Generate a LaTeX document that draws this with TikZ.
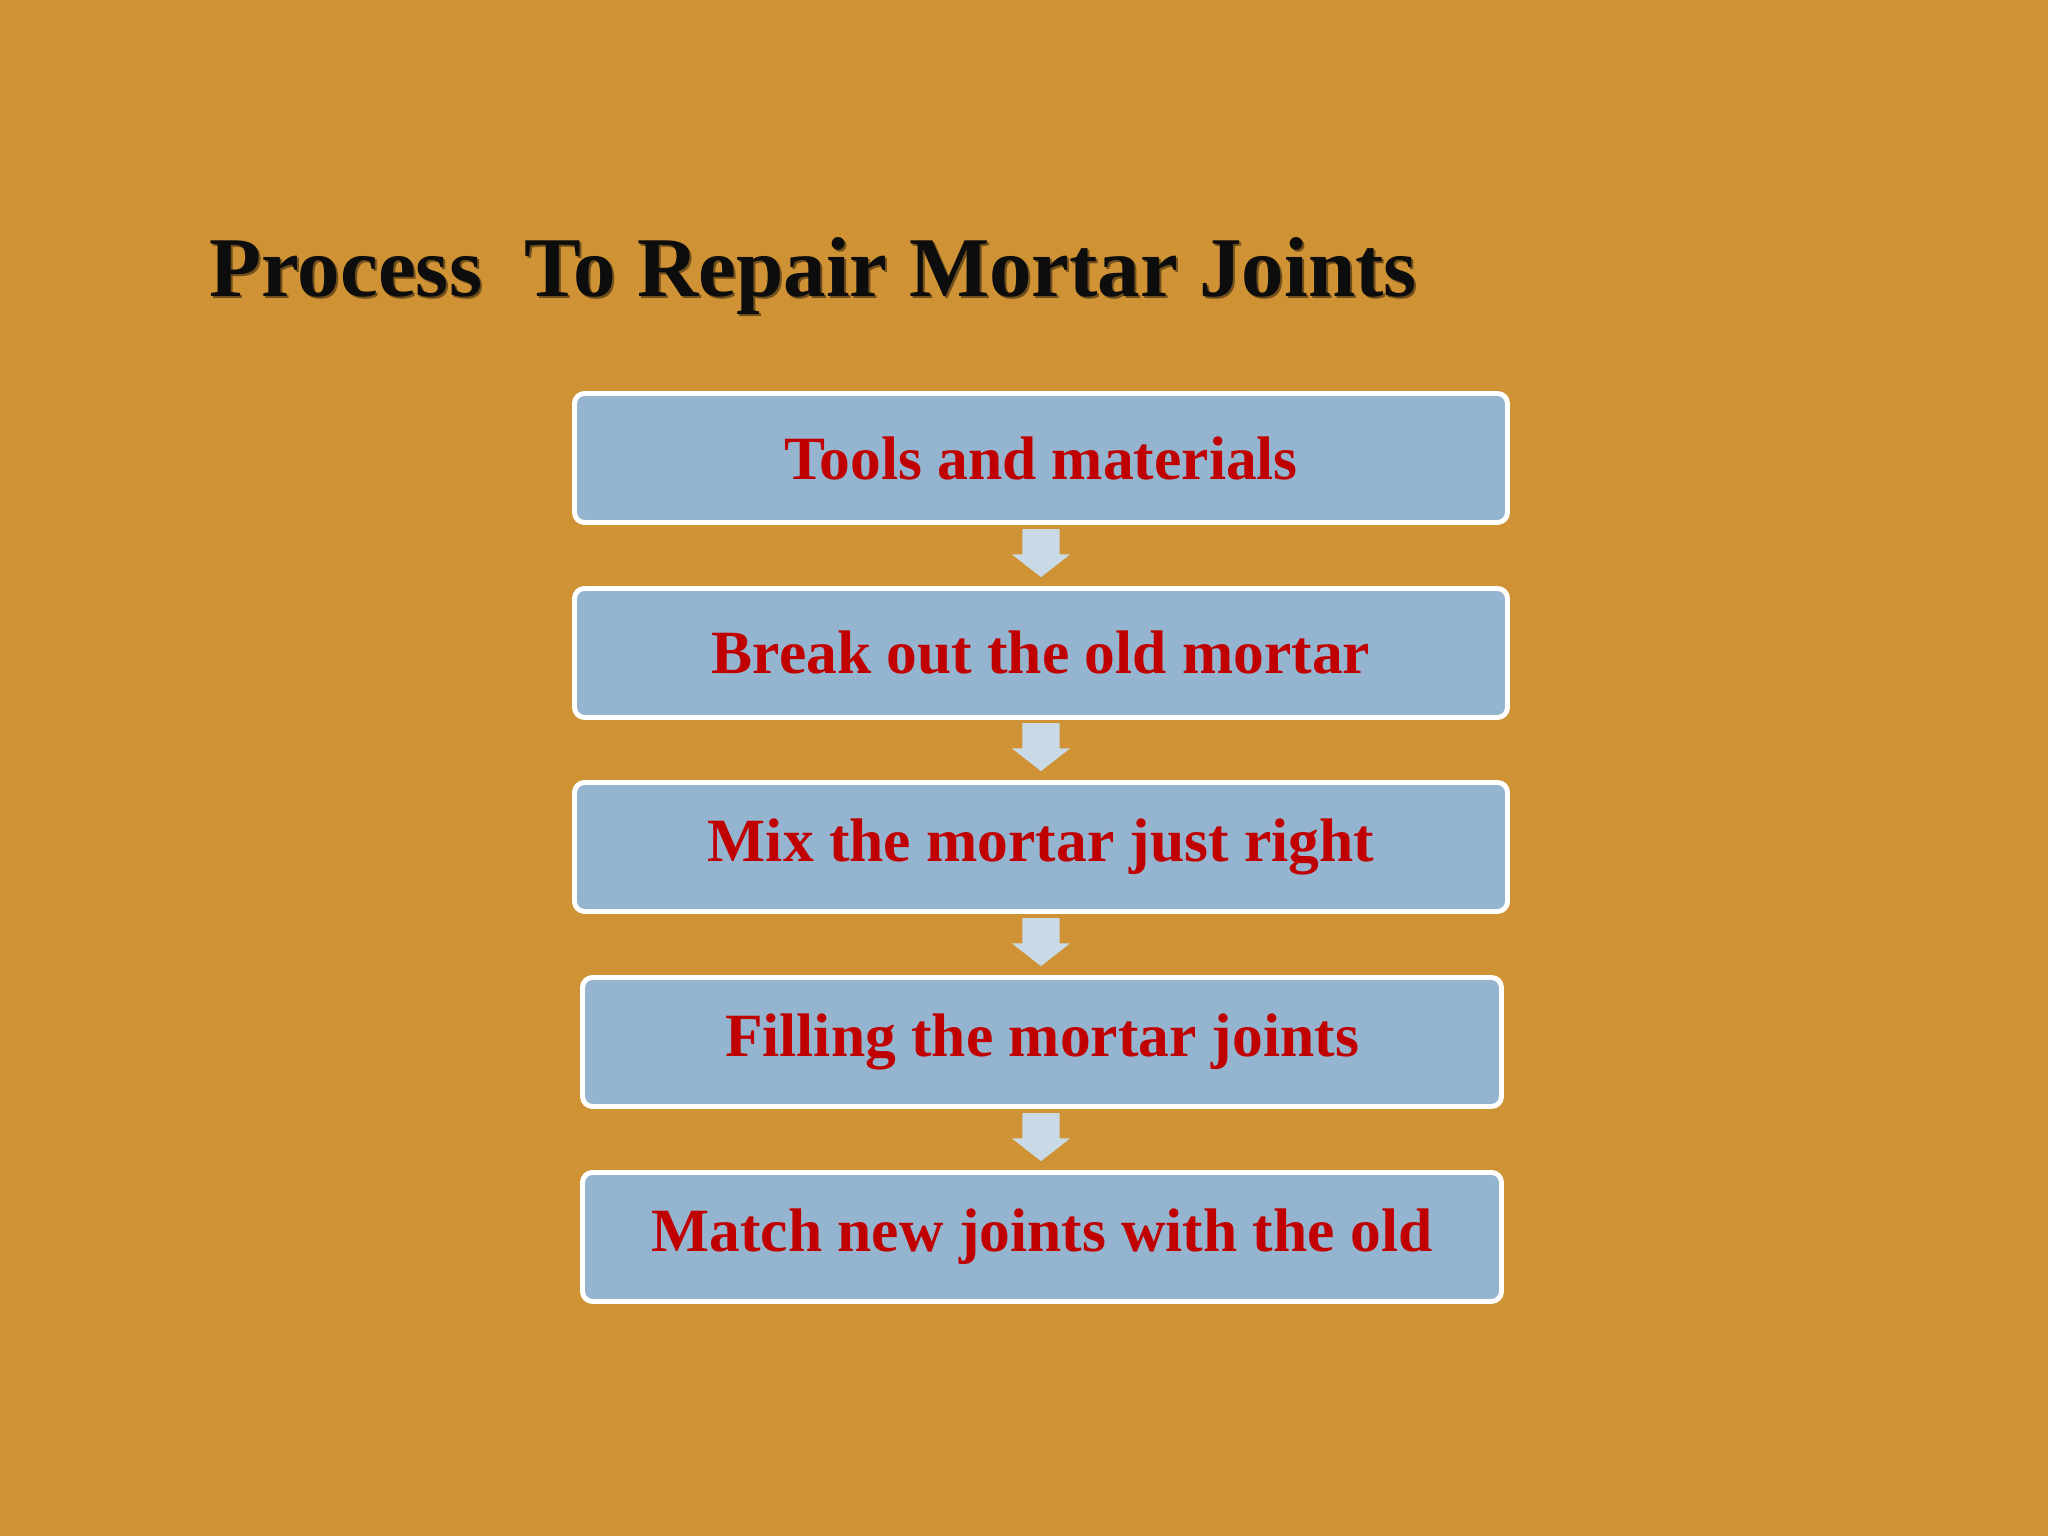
\documentclass[tikz,border=0pt]{standalone}
\usepackage{fontspec}
\setmainfont{Liberation Serif}
\usetikzlibrary{shapes.arrows,calc}

\definecolor{bgorange}{HTML}{CF9235}
\definecolor{stepblue}{HTML}{94B4D0}
\definecolor{steptext}{HTML}{C00000}
\definecolor{arrowblue}{HTML}{C9D9E6}

\tikzset{
    stepbox/.style={draw=white, line width=1.4pt, fill=stepblue, rounded corners=0.1cm,
        minimum width=9.33cm, minimum height=1.29cm, text=steptext,
        font=\fontsize{17.5}{21}\selectfont\bfseries},
    downarrow/.style={single arrow, draw=none, fill=arrowblue, shape border rotate=270,
        inner xsep=0.18cm, inner ysep=0pt, minimum width=0.57cm, minimum height=0.48cm,
        single arrow head extend=0.105cm, single arrow tip angle=104, anchor=tip},
    titletext/.style={anchor=base west, inner sep=0pt, font=\fontsize{24.2}{29}\selectfont\bfseries}
}

\begin{document}
\begin{tikzpicture}
        \fill[bgorange] (0,0) rectangle (20.48,15.36);

        % title
        \node[titletext, text=black!45!bgorange] (titleshadow) at (2.11,12.37) {Process\ \ To Repair Mortar Joints};
        \node[titletext, text=black!95] (title) at (2.09,12.39) {Process\ \ To Repair Mortar Joints};

        % steps
        \node[stepbox] (tools) at (10.41,10.78) {Tools and materials};
        \node[stepbox] (breakout) at (10.41,8.83) {Break out the old mortar};
        \node[stepbox] (mix) at (10.41,6.89) {Mix the mortar just right};
        \node[stepbox, minimum width=9.19cm] (filling) at (10.42,4.94) {Filling the mortar joints};
        \node[stepbox, minimum width=9.19cm] (match) at (10.42,2.99) {Match new joints with the old};

        % arrows between steps
        \node[downarrow] (arrowa) at ($(breakout.north)+(0,0.08)$) {};
        \node[downarrow] (arrowb) at ($(mix.north)+(0,0.08)$) {};
        \node[downarrow] (arrowc) at ($(filling.north)+(-0.01,0.08)$) {};
        \node[downarrow] (arrowd) at ($(match.north)+(-0.01,0.08)$) {};
\end{tikzpicture}
\end{document}
